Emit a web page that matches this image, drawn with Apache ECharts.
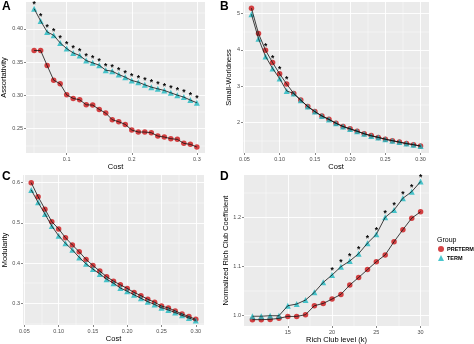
<!DOCTYPE html>
<html><head><meta charset="utf-8">
<script src="https://cdn.jsdelivr.net/npm/echarts@6/dist/echarts.min.js"></script>
<style>html,body{margin:0;padding:0;background:#fff}#c{width:474px;height:344px}</style>
</head><body><div id="c"></div>
<script>
// ---------- data ----------
const costA = [0.05,0.06,0.07,0.08,0.09,0.10,0.11,0.12,0.13,0.14,0.15,0.16,0.17,0.18,0.19,0.20,0.21,0.22,0.23,0.24,0.25,0.26,0.27,0.28,0.29,0.30];
const assortPreterm = [0.3675,0.3675,0.345,0.323,0.3175,0.301,0.2955,0.2935,0.286,0.2855,0.279,0.2735,0.2635,0.2605,0.2565,0.248,0.245,0.245,0.244,0.239,0.2375,0.235,0.234,0.228,0.2265,0.2225];
const assortTerm = [0.4305,0.412,0.3955,0.3905,0.379,0.3705,0.364,0.360,0.3525,0.349,0.3455,0.338,0.3365,0.3315,0.3275,0.3225,0.320,0.316,0.3125,0.310,0.3075,0.304,0.3005,0.2975,0.293,0.289];
const sigA = [0.05,0.06,0.07,0.08,0.09,0.10,0.11,0.12,0.13,0.14,0.15,0.16,0.17,0.18,0.19,0.20,0.21,0.22,0.23,0.24,0.25,0.26,0.27,0.28,0.29,0.30];

const costBC = [0.06,0.07,0.08,0.09,0.10,0.11,0.12,0.13,0.14,0.15,0.16,0.17,0.18,0.19,0.20,0.21,0.22,0.23,0.24,0.25,0.26,0.27,0.28,0.29,0.30];
const swPreterm = [5.15,4.45,3.99,3.65,3.34,3.06,2.80,2.62,2.44,2.30,2.18,2.09,1.98,1.89,1.83,1.76,1.69,1.64,1.59,1.54,1.50,1.46,1.42,1.39,1.35];
const swTerm = [4.98,4.31,3.82,3.49,3.21,2.87,2.80,2.61,2.44,2.30,2.18,2.08,1.98,1.89,1.82,1.76,1.69,1.63,1.59,1.54,1.50,1.46,1.42,1.39,1.35];
const sigB = [0.08,0.09,0.10,0.11];

const modPreterm = [0.600,0.565,0.534,0.503,0.485,0.463,0.445,0.428,0.409,0.394,0.380,0.366,0.355,0.346,0.337,0.327,0.319,0.310,0.3025,0.293,0.2885,0.281,0.2735,0.267,0.260];
const modTerm = [0.582,0.551,0.522,0.492,0.468,0.449,0.433,0.414,0.398,0.385,0.373,0.360,0.350,0.338,0.330,0.321,0.3125,0.304,0.297,0.289,0.2835,0.277,0.270,0.2635,0.257];

const richK = [11,12,13,14,15,16,17,18,19,20,21,22,23,24,25,26,27,28,29,30];
const rcPreterm = [0.992,0.992,0.9925,0.9946,0.9986,0.9986,1.002,1.0204,1.025,1.034,1.0435,1.0626,1.078,1.094,1.110,1.124,1.151,1.1755,1.199,1.212];
const rcTerm = [0.999,0.999,1.000,1.000,1.0204,1.0238,1.032,1.0476,1.068,1.083,1.100,1.1116,1.1265,1.148,1.166,1.2007,1.2156,1.2395,1.253,1.2735];
const sigD = [20,21,22,23,24,25,26,27,28,29,30];

// tick values and labels
const ticksAx = [0.1,0.2,0.3], labelsAx = ['0.1','0.2','0.3'], minorAx = [0.05,0.15,0.25];
const ticksAy = [0.25,0.30,0.35,0.40], labelsAy = ['0.25','0.30','0.35','0.40'], minorAy = [0.225,0.275,0.325,0.375,0.425];
const ticksBx = [0.05,0.10,0.15,0.20,0.25,0.30], labelsBx = ['0.05','0.10','0.15','0.20','0.25','0.30'], minorBx = [0.075,0.125,0.175,0.225,0.275];
const ticksBy = [2,3,4,5], labelsBy = ['2','3','4','5'], minorBy = [1.5,2.5,3.5,4.5];
const ticksCy = [0.3,0.4,0.5,0.6], labelsCy = ['0.3','0.4','0.5','0.6'], minorCy = [0.25,0.35,0.45,0.55];
const ticksDx = [15,20,25,30], labelsDx = ['15','20','25','30'], minorDx = [12.5,17.5,22.5,27.5];
const ticksDy = [1.0,1.1,1.2], labelsDy = ['1.0','1.1','1.2'], minorDy = [1.05,1.15,1.25];

// ---------- styling ----------
const FONT = 'Liberation Sans, Arial, sans-serif';
const RED = '#CC1417', CYAN = '#1DB8C0';

function labelFor(vals, labels, v) {
  for (let i = 0; i < vals.length; i++) if (Math.abs(vals[i] - v) < 1e-9) return labels[i];
  return '';
}
function mainAxis(g, min, max, majors, labels, name, gap, isY) {
  return {
    type: 'value', gridIndex: g, min: min, max: max, position: isY ? 'left' : 'bottom',
    name: name, nameLocation: 'middle', nameGap: gap,
    nameTextStyle: { fontSize: 7.5, color: '#000', fontFamily: FONT },
    axisLine: { show: false },
    axisTick: { show: true, length: 2, lineStyle: { color: '#333', width: 0.6 }, customValues: majors },
    axisLabel: { show: true, customValues: majors, formatter: v => labelFor(majors, labels, v),
      fontSize: 5.5, color: '#4D4D4D', margin: 3, fontFamily: FONT },
    splitLine: { show: true, lineStyle: { color: '#fff', width: 0.9 } }
  };
}
function minorAxis(g, min, max, minors, isY) {
  return {
    type: 'value', gridIndex: g, min: min, max: max, position: isY ? 'left' : 'bottom',
    axisLine: { show: false },
    axisTick: { show: false, customValues: minors },
    axisLabel: { show: false, customValues: minors },
    splitLine: { show: true, lineStyle: { color: '#fff', width: 0.45 } }
  };
}
const zip = (xs, ys) => xs.map((x, i) => [x, ys[i]]);
function starData(xs, a, b, sig) {
  return sig.map(s => { const i = xs.findIndex(x => Math.abs(x - s) < 1e-9); return [s, Math.max(a[i], b[i])]; });
}
function panelSeries(g, xs, pre, term, sig) {
  const base = { xAxisIndex: g, yAxisIndex: g };
  const out = [
    Object.assign({ type: 'scatter', name: 'PRETERM', data: zip(xs, pre), symbol: 'circle', symbolSize: 5.5,
      itemStyle: { color: RED }, z: 2, silent: true }, base),
    Object.assign({ type: 'scatter', name: 'TERM', data: zip(xs, term), symbol: 'triangle', symbolSize: 6,
      itemStyle: { color: CYAN }, z: 2, silent: true }, base),
    Object.assign({ type: 'line', name: 'PRETERM line', data: zip(xs, pre), symbol: 'none',
      lineStyle: { color: '#111', width: 0.8 }, z: 3, silent: true }, base),
    Object.assign({ type: 'line', name: 'TERM line', data: zip(xs, term), symbol: 'none',
      lineStyle: { color: '#111', width: 0.8 }, z: 3, silent: true }, base)
  ];
  if (sig && sig.length) {
    out.push(Object.assign({ type: 'scatter', name: 'sig', data: starData(xs, pre, term, sig),
      symbol: 'circle', symbolSize: 2, itemStyle: { color: 'rgba(0,0,0,0)' }, z: 4, silent: true,
      label: { show: true, formatter: '*', position: 'inside', offset: [0, -4], fontSize: 8.5,
        fontWeight: 'bold', color: '#000', fontFamily: FONT, opacity: 1 } }, base));
  }
  return out;
}

const grids = [
  { left: 26, top: 2, width: 179, height: 151 },
  { left: 243, top: 2, width: 186, height: 151 },
  { left: 23, top: 175, width: 181, height: 150 },
  { left: 244, top: 175, width: 185, height: 151 }
].map(g => Object.assign(g, { show: true, backgroundColor: '#EBEBEB', borderWidth: 0, containLabel: false, outerBoundsMode: 'none' }));

const rangeA = { x: [0.0375, 0.3125], y: [0.2135, 0.4405] };
const rangeB = { x: [0.048, 0.312], y: [1.16, 5.32] };
const rangeC = { x: [0.048, 0.312], y: [0.246, 0.619] };
const rangeD = { x: [10.05, 30.95], y: [0.979, 1.287] };

const xAxes = [
  mainAxis(0, rangeA.x[0], rangeA.x[1], ticksAx, labelsAx, 'Cost', 8, false),
  mainAxis(1, rangeB.x[0], rangeB.x[1], ticksBx, labelsBx, 'Cost', 8, false),
  mainAxis(2, rangeC.x[0], rangeC.x[1], ticksBx, labelsBx, 'Cost', 10, false),
  mainAxis(3, rangeD.x[0], rangeD.x[1], ticksDx, labelsDx, 'Rich Club level (k)', 9, false),
  minorAxis(0, rangeA.x[0], rangeA.x[1], minorAx, false),
  minorAxis(1, rangeB.x[0], rangeB.x[1], minorBx, false),
  minorAxis(2, rangeC.x[0], rangeC.x[1], minorBx, false),
  minorAxis(3, rangeD.x[0], rangeD.x[1], minorDx, false)
];
const yAxes = [
  mainAxis(0, rangeA.y[0], rangeA.y[1], ticksAy, labelsAy, 'Assortativity', 16, true),
  mainAxis(1, rangeB.y[0], rangeB.y[1], ticksBy, labelsBy, 'Small-Worldness', 8, true),
  mainAxis(2, rangeC.y[0], rangeC.y[1], ticksCy, labelsCy, 'Modularity', 13, true),
  mainAxis(3, rangeD.y[0], rangeD.y[1], ticksDy, labelsDy, 'Normalized Rich Club Coefficient', 12, true),
  minorAxis(0, rangeA.y[0], rangeA.y[1], minorAy, true),
  minorAxis(1, rangeB.y[0], rangeB.y[1], minorBy, true),
  minorAxis(2, rangeC.y[0], rangeC.y[1], minorCy, true),
  minorAxis(3, rangeD.y[0], rangeD.y[1], minorDy, true)
];

const series = [].concat(
  panelSeries(0, costA, assortPreterm, assortTerm, sigA),
  panelSeries(1, costBC, swPreterm, swTerm, sigB),
  panelSeries(2, costBC, modPreterm, modTerm, []),
  panelSeries(3, richK, rcPreterm, rcTerm, sigD)
);

const letterStyle = { fontSize: 12, fontWeight: 'bold', color: '#000', fontFamily: FONT };
const option = {
  animation: false,
  backgroundColor: '#fff',
  title: [
    { text: 'A', left: 2, top: 1, textStyle: letterStyle, padding: 0 },
    { text: 'B', left: 220, top: 1, textStyle: letterStyle, padding: 0 },
    { text: 'C', left: 2, top: 171, textStyle: letterStyle, padding: 0 },
    { text: 'D', left: 220, top: 171, textStyle: letterStyle, padding: 0 },
    { text: 'Group', left: 437, top: 237, padding: 0, textStyle: { fontSize: 7, fontWeight: 'normal', color: '#000', fontFamily: FONT } }
  ],
  legend: {
    data: ['PRETERM', 'TERM'], orient: 'vertical', left: 438, top: 246, padding: 0,
    itemWidth: 6, itemHeight: 6, itemGap: 3, selectedMode: false,
    textStyle: { fontSize: 5.5, fontWeight: 'bold', color: '#000', fontFamily: FONT, padding: [0, 0, 0, -2] }
  },
  grid: grids,
  xAxis: xAxes,
  yAxis: yAxes,
  series: series
};
const chart = echarts.init(document.getElementById('c'), null, { renderer: 'canvas' });
chart.setOption(option);
</script>
</body></html>
